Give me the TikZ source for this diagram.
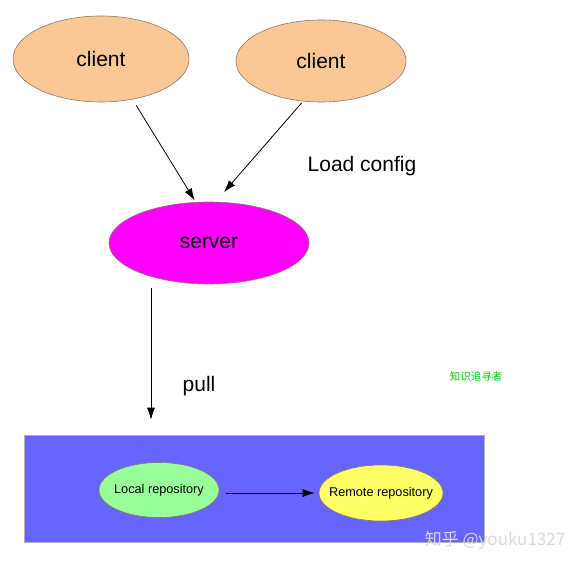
\documentclass[tikz,border=0pt]{standalone}
\usepackage{fontspec}
\setmainfont{Liberation Sans}
\newfontfamily\cjk{Noto Sans CJK SC}
\usetikzlibrary{arrows.meta,shapes.geometric}
\definecolor{clientfill}{RGB}{250,200,150}
\definecolor{serverfill}{RGB}{255,0,255}
\definecolor{repofill}{RGB}{102,102,255}
\definecolor{localfill}{RGB}{153,255,153}
\definecolor{remotefill}{RGB}{255,255,102}
\definecolor{edgecol}{RGB}{140,120,105}
\definecolor{tagcol}{RGB}{0,204,0}
\newcommand{\nowidth}[1]{\makebox[0pt]{#1}}

\begin{document}
\begin{tikzpicture}[x=1pt,y=-1pt,>={Latex[length=12pt,width=8pt]},line width=0.8pt,
  oval/.style={ellipse,draw=edgecol,line width=0.6pt,inner sep=0pt},
  big/.style={font=\fontsize{21}{24}\selectfont},
  small/.style={font=\fontsize{12.7}{15}\selectfont}]

  \useasboundingbox (0,0) rectangle (581,567);

  % clients and server
  \node[oval,big,fill=clientfill,minimum width=176pt,minimum height=86pt] (c1) at (101,59) {client};
  \node[oval,big,fill=clientfill,minimum width=170pt,minimum height=82pt] (c2) at (321,61) {client};
  \node[oval,big,fill=serverfill,minimum width=200pt,minimum height=82pt] (srv) at (209,243) {server};

  % repositories
  \node[fill=repofill,draw=gray!60,line width=0.6pt,minimum width=460pt,minimum height=107pt,inner sep=0pt] (repo) at (254,488.5) {};
  \node[oval,small,fill=localfill,minimum width=120pt,minimum height=55pt] (local) at (159,490) {\nowidth{Local repository}};
  \node[oval,small,fill=remotefill,minimum width=124pt,minimum height=56pt] (remote) at (381,493) {\nowidth{Remote repository}};

  \node[big] (load) at (362,166) {Load config};
  \node[big] (pull) at (199,386) {pull};
  \node[font=\cjk\fontsize{10.5}{12}\selectfont,text=tagcol] (tag) at (476,376) {知识追寻者};
  \node[font=\cjk\fontsize{17}{20}\selectfont,text=gray!30] (mark) at (495,540) {知乎 @youku1327};

  \draw[->,shorten <=7pt,shorten >=2pt] (c1.308) -- (srv.108);
  \draw[->,shorten <=2pt,shorten >=13pt] (c2.246) -- (srv.81);
  \path (srv.south) ++(-58,4) coordinate (p1);
  \draw[->,shorten >=15pt] (p1) -- (p1 |- repo.north);
  \draw[->,shorten <=7pt,shorten >=4pt] (local.east |- remote.west) -- (remote.west);
\end{tikzpicture}
\end{document}
